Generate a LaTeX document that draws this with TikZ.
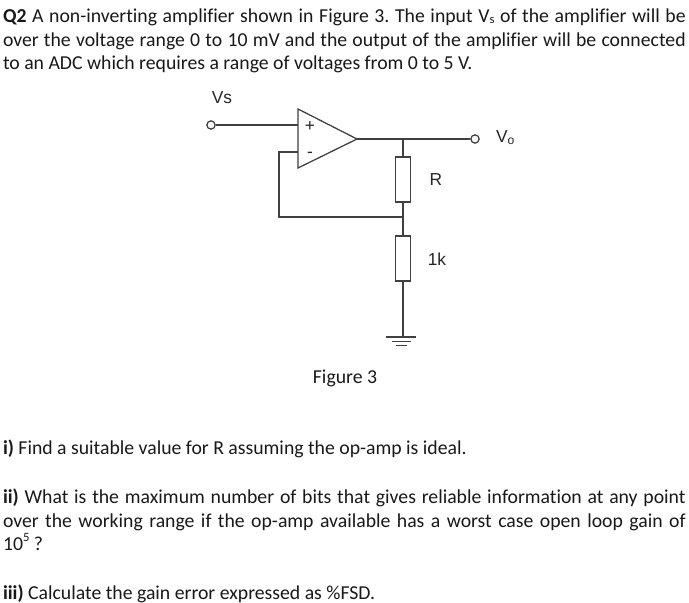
\documentclass[tikz,border=0pt]{standalone}
\usepackage{fontspec}
\setmainfont{Carlito}[Ligatures=CommonOff]
\newfontfamily\arialf{Liberation Sans}
\usetikzlibrary{calc}
\definecolor{wire}{RGB}{64,64,64}
\newcommand{\smallsup}[1]{\raisebox{0.42em}{\fontsize{9.5pt}{10pt}\selectfont #1}}
\newcommand{\smallsub}[1]{\raisebox{-0.1em}{\fontsize{9.5pt}{10pt}\selectfont #1}}
\tikzset{
  x=0.75pt,y=-0.75pt,
  body/.style={inner sep=0pt,outer sep=0pt,anchor=base west,font=\fontsize{14.8pt}{18pt}\selectfont,text=black!90},
  lab/.style={inner sep=0pt,outer sep=0pt,font=\arialf\fontsize{13pt}{15pt}\selectfont,text=black!85},
  sign/.style={inner sep=0pt,outer sep=0pt,font=\arialf\fontsize{13pt}{15pt}\selectfont,text=black!85},
  wiring/.style={draw=wire,line width=0.95pt},
  term/.style={circle,draw=wire,fill=white,line width=0.95pt,minimum size=6.2pt,inner sep=0pt},
  res/.style={rectangle,draw=wire,fill=white,line width=0.95pt,inner sep=0pt,minimum width=10.8pt,minimum height=33.6pt}
}
\newcommand{\jline}[1]{\hbox to 512pt{\frenchspacing #1}}
\begin{document}
\begin{tikzpicture}
\useasboundingbox (0,0) rectangle (689,603);
\fill[white] (0,0) rectangle (689,603);
% question text
\node[body] (l1) at (3,22) {\jline{\textbf{Q2} A non-inverting amplifier shown in Figure 3. The input V\smallsub{s} of the amplifier will be}};
\node[body] (l2) at (3,46) {\jline{over the voltage range 0 to 10 mV and the output of the amplifier will be connected}};
\node[body] (l3) at (3,69) {to an ADC which requires a range of voltages from 0 to 5 V.};
% circuit
\node[term] (vs) at (211,125) {};
\node[term] (vo) at (475,139) {};
\coordinate (ip) at (298,125);
\coordinate (im) at (298,152);
\coordinate (out) at (357,139);
\coordinate (jt) at (403,139);
\coordinate (jm) at (403,217);
\coordinate (fbl) at (279,152);
\coordinate (fbb) at (279,217);
\coordinate (gnd) at (403,337);
\node[res] (r1) at (403,179.5) {};
\node[res] (r2) at (403,258.5) {};
\draw[wiring] (vs) -- (ip);
\draw[wiring] (out) -- (vo);
\draw[wiring] (jt) -- (r1.north);
\draw[wiring] (r1.south) -- (jm);
\draw[wiring] (jm) -- (r2.north);
\draw[wiring] (r2.south) -- (gnd);
\draw[wiring] (im) -- (fbl) -- (fbb) -- (jm);
\draw[wiring,fill=white,line join=miter] (298,109) -- (out) -- (298,168) -- cycle;
\draw[wiring] (386,337) -- (416,337);
\draw[wiring] (392,341.5) -- (411,341.5);
\draw[wiring] (396,345.5) -- (407,345.5);
\node[sign] (plus) at (310,126.5) {+};
\node[sign] (minus) at (310,155) {-};
\node[lab] (vslab) at (222,98) {Vs};
\node[lab,anchor=base west] (volab) at (496,142) {V\textsubscript{o}};
\node[lab] (rlab) at (436,180) {R};
\node[lab] (klab) at (437,259) {1k};
\node[body,anchor=base] (fig) at (345,383) {Figure 3};
% questions
\node[body] (q1) at (3,454) {\textbf{i)} Find a suitable value for R assuming the op-amp is ideal.};
\node[body] (q2) at (3,503) {\jline{\textbf{ii)} What is the maximum number of bits that gives reliable information at any point}};
\node[body] (q3) at (3,527) {\jline{over the working range if the op-amp available has a worst case open loop gain of}};
\node[body] (q4) at (3,550) {10\smallsup{5} ?};
\node[body] (q5) at (3,599) {\textbf{iii)} Calculate the gain error expressed as \%FSD.};
\end{tikzpicture}
\end{document}
